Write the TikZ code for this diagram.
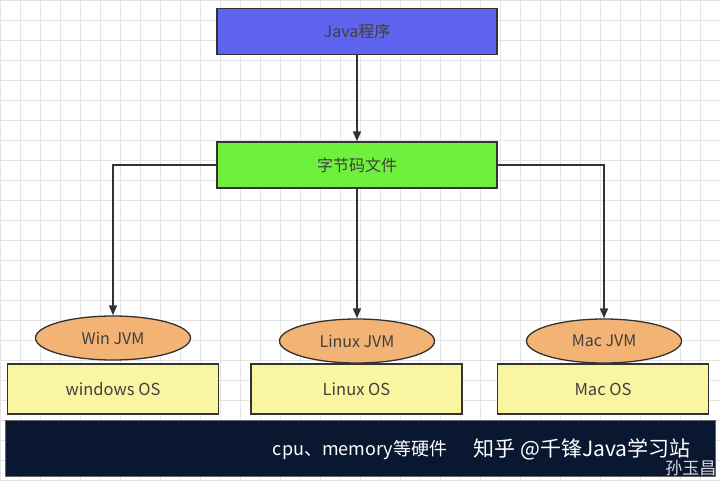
\documentclass[tikz,border=0pt]{standalone}
\usepackage{fontspec}
\setmainfont{Noto Sans CJK SC}
\usetikzlibrary{arrows.meta,shapes.geometric}
\definecolor{jblue}{HTML}{5E63F0}
\definecolor{jgreen}{HTML}{6EF03C}
\definecolor{jorange}{HTML}{F2B374}
\definecolor{jyellow}{HTML}{FAF5A0}
\definecolor{jdark}{HTML}{0A1730}
\definecolor{gridc}{HTML}{E4E4E4}
\begin{document}
\begin{tikzpicture}[x=1pt,y=-1pt,
  box/.style={draw=black!80,line width=1.3pt,minimum width=280pt,minimum height=46pt,inner sep=0pt,font=\fontsize{16}{18}\selectfont,text=black!75},
  jvm/.style={ellipse,draw=black!80,line width=1.3pt,fill=jorange,minimum width=155pt,minimum height=44pt,inner sep=0pt,font=\fontsize{16}{18}\selectfont,text=black!75},
  os/.style={draw=black!80,line width=1.3pt,fill=jyellow,minimum width=211pt,minimum height=50pt,inner sep=0pt,font=\fontsize{16.5}{18}\selectfont,text=black!75},
  arr/.style={draw=black!80,line width=1.6pt,-{Triangle[length=10pt,width=8pt]}}]
\fill[white] (0,0) rectangle (720,482);
\useasboundingbox (0,0) rectangle (720,482);
\foreach \i in {0,20,...,720} \draw[gridc,line width=0.8pt] (\i,0) -- (\i,482);
\foreach \j in {0,20,...,480} \draw[gridc,line width=0.8pt] (0,\j) -- (720,\j);
\node[box,fill=jblue] (java) at (357,31.5) {Java程序};
\node[box,fill=jgreen] (byte) at (357,165) {字节码文件};
\node[jvm] (wj) at (113,338) {Win JVM};
\node[jvm] (lj) at (357,341) {Linux JVM};
\node[jvm] (mj) at (604,341) {Mac JVM};
\node[os] (wo) at (113,389) {windows OS};
\node[os] (lo) at (356.5,389) {Linux OS};
\node[os] (mo) at (603,389) {Mac OS};
\node[fill=jdark,draw=black!60,minimum width=710pt,minimum height=56pt,inner sep=0pt] (hw) at (360,448) {};
\node[text=white,font=\fontsize{18}{20}\selectfont] (cpu) at (360,450) {cpu、memory等硬件};
\node[text=white,font=\fontsize{21}{23}\selectfont,anchor=west] (wm) at (470,449) {知乎 @千锋Java学习站};
\node[text=white!85!black,font=\fontsize{17}{19}\selectfont,anchor=east] (wm2) at (720,468) {孙玉昌};
\draw[arr] (java) -- (byte);
\draw[arr] (byte.west) -| (wj.north);
\draw[arr] (byte) -- (lj.north);
\draw[arr] (byte.east) -| (mj.north);
\end{tikzpicture}
\end{document}
